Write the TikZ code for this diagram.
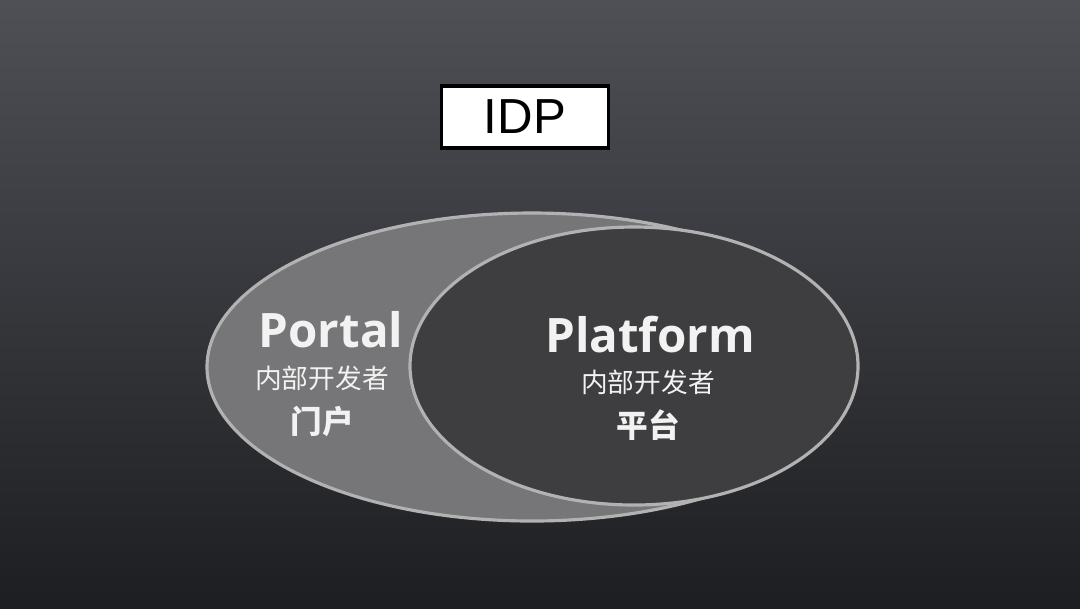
\documentclass[tikz,border=0pt]{standalone}
\usepackage{fontspec}
\usetikzlibrary{shapes.geometric}
\newfontfamily\cjk{Noto Sans CJK SC}
\newfontfamily\lat{Open Sans}
\setmainfont{Liberation Sans}
\begin{document}
\begin{tikzpicture}[x=0.01cm,y=-0.01cm,
  lbl/.style={text=white!95!black, inner sep=0pt},
  ell/.style={draw=white!70!black, line width=0.9pt}]
\useasboundingbox (0,0) rectangle (1080,608);
\shade[top color={rgb,255:red,78;green,80;blue,86}, bottom color={rgb,255:red,28;green,30;blue,33}] (0,0) rectangle (1080,608);
\node[draw=black, fill=white, line width=1pt, minimum width=167*0.01cm, minimum height=62*0.01cm, font=\fontsize{14}{14}\selectfont] (idp) at (525,117) {IDP};
\node[ell, ellipse, fill={rgb,255:red,118;green,118;blue,120}, minimum width=650*0.01cm, minimum height=308*0.01cm, inner sep=0pt] (portal) at (532,367) {};
\node[ell, ellipse, fill={rgb,255:red,62;green,62;blue,64}, minimum width=448*0.01cm, minimum height=278*0.01cm, inner sep=0pt] (platform) at (634,366) {};
\node[lbl, font=\lat\bfseries\fontsize{13.5}{13.5}\selectfont] (t1) at (331,330) {Portal};
\node[lbl, font=\cjk\fontsize{7.6}{7.6}\selectfont] (t2) at (322,378) {内部开发者};
\node[lbl, font=\cjk\bfseries\fontsize{9}{9}\selectfont] (t3) at (322,421) {门户};
\node[lbl, font=\lat\bfseries\fontsize{13.5}{13.5}\selectfont] (t4) at (650,335) {Platform};
\node[lbl, font=\cjk\fontsize{7.6}{7.6}\selectfont] (t5) at (648,382) {内部开发者};
\node[lbl, font=\cjk\bfseries\fontsize{9}{9}\selectfont] (t6) at (648,425) {平台};
\end{tikzpicture}
\end{document}
